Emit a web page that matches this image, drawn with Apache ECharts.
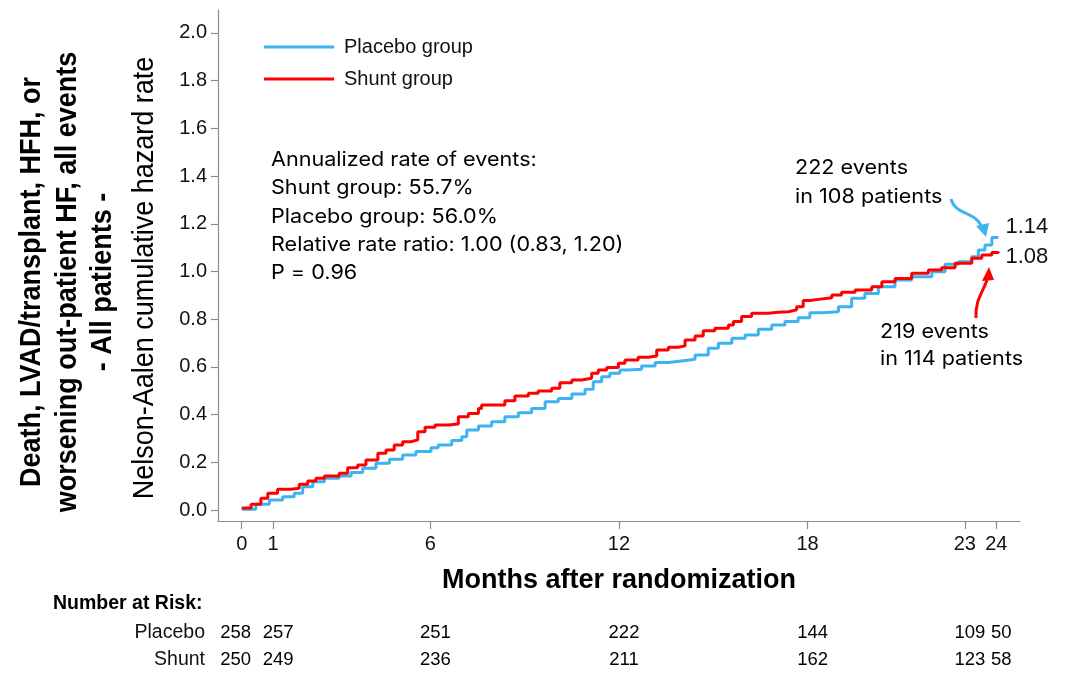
<!DOCTYPE html>
<html><head><meta charset="utf-8">
<script src="https://cdn.jsdelivr.net/npm/echarts@6/dist/echarts.min.js"></script>
<style>html,body{margin:0;padding:0;background:#fff}#c{width:1080px;height:686px}</style>
</head><body><div id="c"></div>
<script>
// ---- data ----
const seriesNames = ['Placebo group', 'Shunt group'];
const placeboMonths = [0,0.45,0.88,1.3,1.67,1.94,2.26,2.63,3.1,3.48,3.85,4.27,4.7,5.12,5.54,6.02,6.25,6.68,7.0,7.16,7.53,7.95,8.37,8.8,9.22,9.65,10.07,10.5,10.92,11.18,11.45,11.71,12.03,12.3,12.72,13.15,13.57,13.99,14.42,14.84,15.16,15.59,16.01,16.43,16.86,17.28,17.7,18.07,18.45,18.98,19.4,19.82,20.25,20.78,21.31,21.95,22.37,22.8,23.22,23.43,23.64,23.86,24.07];
const placeboRate = [0.003,0.024,0.042,0.056,0.07,0.098,0.119,0.133,0.143,0.157,0.175,0.196,0.213,0.231,0.245,0.261,0.273,0.291,0.307,0.335,0.352,0.37,0.391,0.408,0.426,0.454,0.468,0.486,0.506,0.538,0.559,0.573,0.587,0.59,0.604,0.618,0.625,0.632,0.65,0.678,0.699,0.72,0.734,0.758,0.776,0.79,0.806,0.827,0.831,0.852,0.888,0.908,0.936,0.964,0.978,0.999,1.03,1.041,1.062,1.09,1.111,1.142,1.142];
const shuntMonths = [0,0.3,0.61,0.83,1.14,1.57,1.83,2.1,2.36,2.63,3.1,3.37,3.69,3.95,4.33,4.59,4.85,5.12,5.38,5.6,5.83,6.15,6.57,6.89,7.21,7.53,7.63,8.37,8.69,9.12,9.43,9.86,10.12,10.5,10.81,11.13,11.34,11.61,11.98,12.19,12.61,12.93,13.2,13.57,13.89,14.1,14.42,14.68,15.05,15.48,15.64,15.9,16.22,16.75,17.07,17.39,17.65,17.86,18.07,18.34,18.77,19.08,19.51,20.04,20.36,20.78,21.31,21.84,22.26,22.69,23.22,23.54,23.86,24.07];
const shuntRate = [0.008,0.024,0.049,0.07,0.087,0.091,0.108,0.122,0.133,0.143,0.154,0.177,0.189,0.21,0.238,0.252,0.273,0.286,0.294,0.328,0.347,0.356,0.361,0.391,0.405,0.426,0.44,0.458,0.478,0.489,0.499,0.51,0.534,0.545,0.552,0.573,0.587,0.597,0.615,0.629,0.64,0.646,0.671,0.682,0.688,0.713,0.73,0.751,0.762,0.776,0.79,0.811,0.825,0.829,0.831,0.839,0.852,0.878,0.883,0.89,0.901,0.913,0.922,0.936,0.957,0.971,0.992,1.006,1.016,1.034,1.055,1.069,1.08,1.083];
const xTicks = [0, 1, 6, 12, 18, 23, 24];
const yTicks = [0, 0.2, 0.4, 0.6, 0.8, 1.0, 1.2, 1.4, 1.6, 1.8, 2.0];
const riskRows = ['Shunt', 'Placebo'];
const riskMonths = [0, 1, 6, 12, 18, 23, 24];
const riskPlacebo = [258, 257, 251, 222, 144, 109, 50];
const riskShunt = [250, 249, 236, 211, 162, 123, 58];
const statsLines = ['Annualized rate of events:', 'Shunt group: 55.7%', 'Placebo group: 56.0%', 'Relative rate ratio: 1.00 (0.83, 1.20)', 'P = 0.96'];
const placeboNote = ['222 events', 'in 108 patients'];
const shuntNote = ['219 events', 'in 114 patients'];
const yTitleBold = ['Death, LVAD/transplant, HFH, or', 'worsening out-patient HF, all events', '- All patients -'];
const yTitle = 'Nelson-Aalen cumulative hazard rate';
const xTitle = 'Months after randomization';

const BLUE = '#3DB3EF', RED = '#FF0000', AX = '#8c8c8c', TXT = '#111';
const SANS = '"Liberation Sans", Arial, sans-serif';
const NOTE = 'Inter, "Open Sans", sans-serif';

const chart = echarts.init(document.getElementById('c'), null, {renderer: 'canvas'});
const zip = (a, b) => a.map((v, i) => [v, b[i]]);
const riskData = riskMonths.map((m, i) => [m, 'Placebo', riskPlacebo[i]])
  .concat(riskMonths.map((m, i) => [m, 'Shunt', riskShunt[i]]));

const noteText = (x, y, lines, lh) => ({
  type: 'text', x: x, y: y, scaleX: 1.08,
  style: {text: lines.join('\n'), fontSize: 20, lineHeight: lh, fontFamily: NOTE, fill: '#000', align: 'left', verticalAlign: 'top'}
});
const vText = (x, y, text, bold) => ({
  type: 'text', x: x, y: y, rotation: Math.PI / 2, scaleY: 1.08,
  style: {text: text, fontSize: 27, fontWeight: bold ? 'bold' : 'normal', fontFamily: SANS, fill: '#000', align: 'center', verticalAlign: 'middle'}
});

const option = {
  animation: false,
  backgroundColor: '#fff',
  grid: [
    {left: 218, right: 60, top: 10, bottom: 165},
    {left: 218, right: 60, top: 619.5, height: 54}
  ],
  legend: {
    data: seriesNames, orient: 'vertical', left: 264, top: 37, padding: 0,
    itemWidth: 70, itemHeight: 3, itemGap: 12, icon: 'rect',
    textStyle: {fontSize: 20, fontFamily: SANS, color: TXT, padding: [0, 0, 0, 5], lineHeight: 20}
  },
  xAxis: [
    {
      type: 'value', gridIndex: 0, min: -0.754, max: 24.755,
      axisLine: {show: true, onZero: false, lineStyle: {color: AX, width: 1.2}},
      axisTick: {show: true, length: 8, customValues: xTicks, lineStyle: {color: AX, width: 1.2}},
      axisLabel: {customValues: xTicks, fontSize: 20, fontFamily: SANS, color: TXT, margin: 13},
      splitLine: {show: false},
      name: xTitle, nameLocation: 'middle', nameGap: 46,
      nameTextStyle: {fontSize: 27, fontWeight: 'bold', fontFamily: SANS, color: '#000'}
    },
    {type: 'value', gridIndex: 1, min: -0.754, max: 24.755, show: false}
  ],
  yAxis: [
    {
      type: 'value', gridIndex: 0, min: -0.046, max: 2.096,
      axisLine: {show: true, onZero: false, lineStyle: {color: AX, width: 1.2}},
      axisTick: {show: true, length: 7, customValues: yTicks, lineStyle: {color: AX, width: 1.2}},
      axisLabel: {customValues: yTicks, fontSize: 20, fontFamily: SANS, color: TXT, margin: 11,
                  formatter: v => v.toFixed(1)},
      splitLine: {show: false}
    },
    {
      type: 'category', gridIndex: 1, data: riskRows,
      axisLine: {show: false}, axisTick: {show: false}, splitLine: {show: false},
      axisLabel: {fontSize: 19.5, fontFamily: SANS, color: TXT, margin: 13}
    }
  ],
  series: [
    {
      name: seriesNames[0], type: 'line', step: 'end', data: zip(placeboMonths, placeboRate),
      showSymbol: false, symbol: 'none', lineStyle: {color: BLUE, width: 3}, itemStyle: {color: BLUE},
      endLabel: {show: true, formatter: p => p.value[1].toFixed(2), fontSize: 22, fontFamily: SANS,
                 color: TXT, distance: 7, offset: [0, -11]}
    },
    {
      name: seriesNames[1], type: 'line', step: 'end', data: zip(shuntMonths, shuntRate),
      showSymbol: false, symbol: 'none', lineStyle: {color: RED, width: 3}, itemStyle: {color: RED},
      endLabel: {show: true, formatter: p => p.value[1].toFixed(2), fontSize: 22, fontFamily: SANS,
                 color: TXT, distance: 7, offset: [0, 5]}
    },
    {
      name: 'risk', type: 'scatter', xAxisIndex: 1, yAxisIndex: 1, symbol: 'circle', symbolSize: 1,
      itemStyle: {color: '#ffffff', opacity: 1},
      data: riskData,
      label: {show: true, position: 'inside', formatter: p => String(p.value[2]),
              fontSize: 18.5, fontFamily: SANS, color: '#000', textBorderWidth: 0, opacity: 1},
      emphasis: {disabled: true},
      // first column nudged left so it does not touch the second, the rest sit slightly right of the tick
      labelLayout: p => ({dx: (p.dataIndex % riskMonths.length === 0) ? -6 : 5, hideOverlap: false})
    }
  ],
  graphic: [
    vText(32, 282, yTitleBold[0], true),
    vText(68, 282, yTitleBold[1], true),
    vText(103, 282, yTitleBold[2], true),
    vText(145, 278, yTitle, false),
    noteText(271, 146, statsLines, 28.3),
    noteText(795, 154, placeboNote, 28.5),
    noteText(880, 318, shuntNote, 27),
    {type: 'text', x: 53, y: 604,
     style: {text: 'Number at Risk:', fontSize: 19.5, fontWeight: 'bold', fontFamily: SANS, fill: '#000', align: 'left', verticalAlign: 'middle'}},
    {type: 'bezierCurve', shape: {x1: 951, y1: 199, cpx1: 955, cpy1: 215, cpx2: 975, cpy2: 211, x2: 982, y2: 227},
     style: {stroke: BLUE, lineWidth: 3, fill: null}},
    {type: 'polygon', shape: {points: [[976, 226], [989, 223], [986, 237]]}, style: {fill: BLUE}},
    {type: 'bezierCurve', shape: {x1: 976, y1: 318, cpx1: 975, cpy1: 300, cpx2: 983, cpy2: 292, x2: 987, y2: 280},
     style: {stroke: RED, lineWidth: 3, fill: null}},
    {type: 'polygon', shape: {points: [[982, 281], [994, 280], [989, 267]]}, style: {fill: RED}}
  ]
};
chart.setOption(option);
</script>
</body></html>
